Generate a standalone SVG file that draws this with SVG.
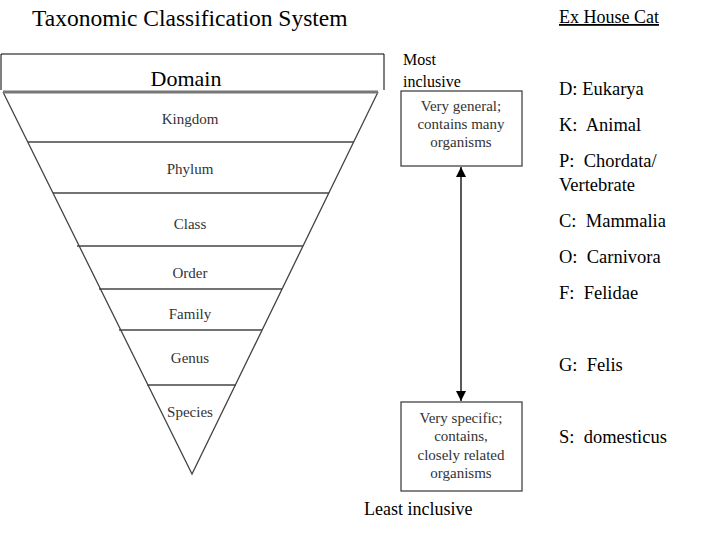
<svg xmlns="http://www.w3.org/2000/svg" width="720" height="540" viewBox="0 0 720 540">
<style>
text{font-family:"Liberation Serif","Times New Roman",serif;white-space:pre}
.t{fill:#000}
.s{font-size:15px;fill:#333;text-anchor:middle}
.r{font-size:18.5px;fill:#000}
.ln{stroke:#444;stroke-width:1.3;fill:none}
</style>
<defs><marker id="a" markerWidth="10" markerHeight="10" refX="10" refY="5" orient="auto-start-reverse" markerUnits="userSpaceOnUse"><path d="M0,0L10,5L0,10z" fill="#000"/></marker></defs>
<rect width="720" height="540" fill="#fff"/>
<text class="t" x="32" y="26" font-size="23.5" font-family="Liberation Serif, serif">Taxonomic Classification System</text>
<text class="t" x="559" y="23" font-size="18" text-decoration="underline" font-family="Liberation Serif, serif">Ex House Cat</text>
<g id="domain"><path d="M1,90V54H384V90" fill="none" stroke="#000" stroke-width="1"/><text class="t" x="186" y="86" font-size="22" text-anchor="middle" font-family="Liberation Serif, serif">Domain</text></g>
<g id="pyramid" font-family="Liberation Serif, serif">
<path d="M3,92L192,474L378,92" class="ln"/>
<line x1="3" y1="92" x2="378" y2="92" stroke="#777" stroke-width="3"/>
<line x1="28" y1="142" x2="354" y2="142" class="ln"/>
<line x1="53" y1="193" x2="329" y2="193" class="ln"/>
<line x1="77" y1="246" x2="303" y2="246" class="ln" stroke-width="2"/>
<line x1="99" y1="289" x2="282" y2="289" class="ln"/>
<line x1="119" y1="330" x2="262" y2="330" class="ln"/>
<line x1="147" y1="385" x2="236" y2="385" class="ln"/>
<text class="s" x="190" y="124">Kingdom</text>
<text class="s" x="190" y="174">Phylum</text>
<text class="s" x="190" y="229">Class</text>
<text class="s" x="190" y="278">Order</text>
<text class="s" x="190" y="319">Family</text>
<text class="s" x="190" y="363">Genus</text>
<text class="s" x="190" y="417">Species</text>
</g>
<g id="most" font-family="Liberation Serif, serif"><text class="t" x="403" y="65" font-size="16">Most</text><text class="t" x="403" y="87" font-size="16">inclusive</text></g>
<g id="general" font-family="Liberation Serif, serif"><rect x="401" y="91" width="121" height="75" fill="#fff" stroke="#444" stroke-width="1.3"/>
<text class="s" x="461" y="111">Very general;</text><text class="s" x="461" y="129">contains many</text><text class="s" x="461" y="147">organisms</text></g>
<g id="specific" font-family="Liberation Serif, serif"><rect x="401" y="402" width="121" height="89" fill="#fff" stroke="#444" stroke-width="1.3"/>
<text class="s" x="461" y="423">Very specific;</text><text class="s" x="461" y="441">contains,</text><text class="s" x="461" y="460">closely related</text><text class="s" x="461" y="478">organisms</text></g>
<g id="least" font-family="Liberation Serif, serif"><text class="t" x="364" y="515" font-size="18">Least inclusive</text></g>
<g id="connectors">
<line x1="461" y1="167" x2="461" y2="401" stroke="#000" stroke-width="1.3" marker-start="url(#a)" marker-end="url(#a)"/>
</g>
<g id="cat" font-family="Liberation Serif, serif">
<text class="r" x="559" y="95">D: Eukarya</text>
<text class="r" x="559" y="131">K:  Animal</text>
<text class="r" x="559" y="167">P:  Chordata/</text>
<text class="r" x="559" y="191">Vertebrate</text>
<text class="r" x="559" y="227">C:  Mammalia</text>
<text class="r" x="559" y="263">O:  Carnivora</text>
<text class="r" x="559" y="299">F:  Felidae</text>
<text class="r" x="559" y="371">G:  Felis</text>
<text class="r" x="559" y="443">S:  domesticus</text>
</g>
</svg>
